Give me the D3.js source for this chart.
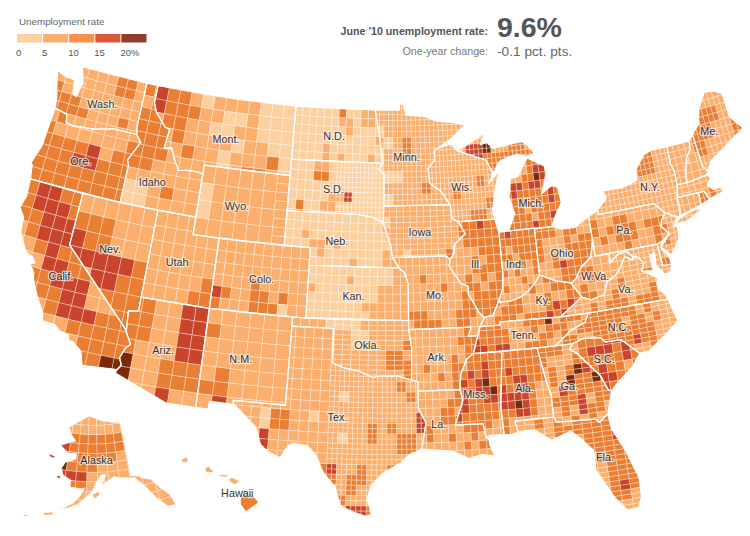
<!DOCTYPE html>
<html>
<head>
<meta charset="utf-8"/>
<title>Unemployment rate by county</title>
<script src="https://cdn.jsdelivr.net/npm/d3@7"></script>
<style>
  html, body { margin: 0; padding: 0; background: #fff; }
  svg { display: block; font-family: "Liberation Sans", Arial, sans-serif; }
  .state-label { font-size: 10.8px; fill: #333; text-anchor: middle; paint-order: stroke; stroke: #fff; stroke-opacity: .6; stroke-width: 2.5px; stroke-linejoin: round; }
</style>
</head>
<body>
<svg id="map" width="750" height="536"></svg>
<script>
// legend
var legendBreaks = [0, 5, 10, 15, 20, 25];
var legendTicks = ["0", "5", "10", "15", "20%"];
var rateBreaks = [5, 10, 15, 20];
var mapColors = ["#fdd09f", "#fcae6c", "#ea7f33", "#c9442a", "#7a2a08"];
var legendColors = ["#fdd09f", "#fcae6c", "#f8914d", "#d8583a", "#923c2a"];

// state outlines, lon/lat
var outlines = {
  WA: [[-124.7,48.38],[-123.9,48.17],[-123.1,48.15],[-122.85,47.3],[-122.55,47.25],[-122.4,47.9],[-122.3,48.05],[-122.5,48.5],[-122.75,49],[-117.03,49],[-117.04,46.42],[-116.92,45.99],[-118.98,46],[-119.3,45.93],[-120.5,45.7],[-121.2,45.65],[-122.2,45.58],[-122.75,45.65],[-122.9,46.1],[-123.4,46.2],[-123.98,46.25],[-124.05,46.7],[-124.15,47],[-124.4,47.6]],
  OR: [[-123.98,46.25],[-123.4,46.2],[-122.9,46.1],[-122.75,45.65],[-122.2,45.58],[-121.2,45.65],[-120.5,45.7],[-119.3,45.93],[-118.98,46],[-116.92,45.99],[-116.46,45.6],[-116.85,45],[-117.2,44.45],[-117.03,44.2],[-117.03,42],[-124.21,42],[-124.4,42.8],[-124.55,42.85],[-124.1,44],[-124.05,45]],
  CA: [[-124.21,42],[-120,42],[-120,39],[-114.63,35],[-114.57,34.85],[-114.15,34.27],[-114.45,34],[-114.72,33.4],[-114.5,33],[-114.72,32.72],[-117.12,32.53],[-117.25,32.85],[-117.4,33.3],[-118.1,33.72],[-118.4,33.75],[-118.5,34.03],[-119.2,34.15],[-119.6,34.42],[-120.5,34.45],[-120.65,34.9],[-121.3,35.7],[-121.9,36.6],[-122,36.95],[-122.45,37.4],[-122.1,37.5],[-122.4,37.8],[-122.5,37.8],[-123,38],[-123.75,38.95],[-123.85,39.8],[-124.35,40.3],[-124.1,41]],
  NV: [[-120,42],[-114.04,42],[-114.04,36.2],[-114.75,36.1],[-114.63,35],[-120,39]],
  ID: [[-117.03,49],[-116.05,49],[-116.05,48],[-115.7,47.45],[-114.75,46.75],[-114.35,46.65],[-114.5,45.55],[-113.9,45.65],[-113.45,44.95],[-113,44.45],[-112.3,44.55],[-111.5,44.55],[-111.05,44.48],[-111.05,42],[-117.03,42],[-117.03,44.2],[-117.2,44.45],[-116.85,45],[-116.46,45.6],[-116.92,45.99],[-117.04,46.42]],
  MT: [[-116.05,49],[-104.05,49],[-104.05,45],[-111.05,45],[-111.05,44.48],[-111.5,44.55],[-112.3,44.55],[-113,44.45],[-113.45,44.95],[-113.9,45.65],[-114.5,45.55],[-114.35,46.65],[-114.75,46.75],[-115.7,47.45],[-116.05,48]],
  WY: [[-111.05,45],[-104.05,45],[-104.05,41],[-111.05,41]],
  UT: [[-114.04,42],[-111.05,42],[-111.05,41],[-109.05,41],[-109.05,37],[-114.04,37]],
  CO: [[-109.05,41],[-102.05,41],[-102.05,37],[-109.05,37]],
  AZ: [[-114.04,37],[-109.05,37],[-109.05,31.33],[-111.07,31.33],[-114.8,32.5],[-114.72,32.72],[-114.5,33],[-114.72,33.4],[-114.45,34],[-114.15,34.27],[-114.57,34.85],[-114.63,35],[-114.75,36.1],[-114.04,36.2]],
  NM: [[-109.05,37],[-103,37],[-103.05,32],[-106.62,32],[-106.53,31.78],[-108.2,31.78],[-108.2,31.33],[-109.05,31.33]],
  ND: [[-104.05,49],[-97.23,49],[-96.85,47.6],[-96.56,45.94],[-104.05,45.94]],
  SD: [[-104.05,45.94],[-96.56,45.94],[-96.85,45.6],[-96.45,45.3],[-96.45,43.5],[-96.5,42.55],[-97.3,42.85],[-98.5,43],[-104.05,43]],
  NE: [[-104.05,43],[-98.5,43],[-97.3,42.85],[-96.5,42.55],[-96.1,41.7],[-95.9,41.2],[-95.77,40.58],[-95.31,40],[-102.05,40],[-102.05,41],[-104.05,41]],
  KS: [[-102.05,40],[-95.31,40],[-94.9,39.75],[-94.61,39.11],[-94.62,37],[-102.05,37]],
  OK: [[-103,37],[-94.62,37],[-94.62,36.5],[-94.43,35.4],[-94.48,33.64],[-95.5,33.9],[-96.6,33.85],[-97.2,33.8],[-98.1,34.13],[-99.2,34.3],[-100,34.56],[-100,36.5],[-103,36.5]],
  TX: [[-103,36.5],[-100,36.5],[-100,34.56],[-99.2,34.3],[-98.1,34.13],[-97.2,33.8],[-96.6,33.85],[-95.5,33.9],[-94.48,33.64],[-94.04,33.55],[-94.04,32],[-93.55,31.2],[-93.75,30.3],[-93.85,29.7],[-94.7,29.4],[-95.3,28.9],[-96.4,28.35],[-97.2,27.6],[-97.4,26.9],[-97.15,25.96],[-97.5,25.85],[-98.2,26.05],[-99.1,26.4],[-99.5,27.5],[-100.3,28.3],[-100.8,29.25],[-101.4,29.77],[-102.35,29.87],[-102.7,29.7],[-103.15,28.98],[-104,29.3],[-104.5,29.65],[-104.9,30.6],[-106.53,31.78],[-106.62,32],[-103.05,32]],
  MN: [[-97.23,49],[-95.15,49],[-95.15,49.38],[-94.8,49.3],[-94.6,48.7],[-93,48.6],[-92,48.3],[-90.8,48.2],[-89.6,48],[-90.8,47.3],[-92.05,46.72],[-92.3,46.65],[-92.3,46.1],[-92.85,45.6],[-92.75,44.75],[-91.9,44.3],[-91.2,43.5],[-96.45,43.5],[-96.45,45.3],[-96.85,45.6],[-96.56,45.94],[-96.85,47.6]],
  IA: [[-96.45,43.5],[-91.2,43.5],[-91.1,42.7],[-90.65,42.5],[-90.15,41.8],[-91.05,41.2],[-91.1,40.7],[-91.42,40.38],[-91.7,40.6],[-95.77,40.58],[-95.9,41.2],[-96.1,41.7],[-96.5,42.55]],
  MO: [[-95.77,40.58],[-91.7,40.6],[-91.42,40.38],[-91.5,40],[-90.7,39],[-90.15,38.8],[-90.2,38.4],[-89.5,37.3],[-89.15,37],[-89.5,36.5],[-89.7,36],[-90.37,36],[-90.15,36.5],[-94.62,36.5],[-94.62,39.11],[-94.9,39.75],[-95.31,40]],
  AR: [[-94.62,36.5],[-90.15,36.5],[-90.37,36],[-89.7,36],[-90.1,35],[-90.6,34.7],[-91.05,33.9],[-91.17,33],[-94.04,33],[-94.04,33.55],[-94.48,33.64],[-94.43,35.4]],
  LA: [[-94.04,33],[-91.17,33],[-91,32.4],[-91.6,31],[-89.75,31],[-89.6,30.2],[-89.4,30.05],[-89.4,29.8],[-89.1,29.1],[-89.9,29.25],[-90.8,29.05],[-91.8,29.5],[-92.3,29.55],[-93.85,29.7],[-93.75,30.3],[-93.55,31.2],[-94.04,32]],
  WI: [[-92.05,46.72],[-90.9,46.95],[-90.4,46.55],[-89,46.15],[-88.1,45.9],[-87.6,45.1],[-88,44.55],[-87.05,45.25],[-87.55,44.2],[-87.9,43],[-87.8,42.5],[-90.65,42.5],[-91.1,42.7],[-91.2,43.5],[-91.9,44.3],[-92.75,44.75],[-92.85,45.6],[-92.3,46.1],[-92.3,46.65]],
  IL: [[-90.65,42.5],[-87.8,42.5],[-87.55,41.75],[-87.53,39.35],[-87.65,38.5],[-88.05,37.8],[-88.5,37.1],[-89.15,37],[-89.5,37.3],[-90.2,38.4],[-90.15,38.8],[-90.7,39],[-91.5,40],[-91.42,40.38],[-91.1,40.7],[-91.05,41.2],[-90.15,41.8]],
  IN: [[-87.55,41.75],[-87.2,41.75],[-86.8,41.76],[-84.8,41.76],[-84.82,39.1],[-85.2,38.7],[-85.75,38.28],[-86.3,38],[-87.1,37.8],[-88.05,37.8],[-87.65,38.5],[-87.53,39.35]],
  OH: [[-84.8,41.7],[-83.45,41.73],[-82.7,41.5],[-81.7,41.5],[-80.52,41.98],[-80.52,40.64],[-80.85,39.7],[-81.7,39.2],[-82.2,38.6],[-82.6,38.42],[-83.7,38.65],[-84.82,39.1]],
  KY: [[-89.5,36.5],[-89.15,37],[-88.5,37.1],[-88.05,37.8],[-87.1,37.8],[-86.3,38],[-85.75,38.28],[-85.2,38.7],[-84.82,39.1],[-83.7,38.65],[-82.6,38.42],[-81.97,37.54],[-83.68,36.6],[-88.07,36.68],[-88.07,36.5]],
  TN: [[-90.1,35],[-89.7,36],[-89.5,36.5],[-88.07,36.5],[-88.07,36.68],[-83.68,36.6],[-81.68,36.59],[-82,36.1],[-83.1,35.75],[-84.32,35]],
  MS: [[-90.1,35],[-88.2,35],[-88.1,34.9],[-88.47,31.9],[-88.4,30.3],[-89.3,30.3],[-89.6,30.2],[-89.75,31],[-91.6,31],[-91,32.4],[-91.17,33],[-91.05,33.9],[-90.6,34.7]],
  AL: [[-88.2,35],[-85.6,35],[-85.18,32.87],[-85,32.3],[-85,31],[-87.6,31],[-87.45,30.35],[-88,30.25],[-88.4,30.3],[-88.47,31.9],[-88.1,34.9]],
  GA: [[-85.6,35],[-83.1,35],[-83.35,34.7],[-82.9,34.45],[-81.5,33],[-81.1,32.1],[-80.9,32.03],[-81.4,30.75],[-82.05,30.36],[-82.2,30.57],[-84.87,30.7],[-85,31],[-85,32.3],[-85.18,32.87]],
  FL: [[-87.6,31],[-85,31],[-84.87,30.7],[-82.2,30.57],[-82.05,30.36],[-81.4,30.75],[-81.3,29.9],[-80.6,28.5],[-80.05,26.9],[-80.1,25.75],[-80.4,25.2],[-81.1,25.15],[-81.75,25.95],[-82.1,26.6],[-82.7,27.7],[-82.65,28.8],[-83.4,29.6],[-84,30.1],[-85.3,29.7],[-86.4,30.4],[-87.45,30.35]],
  SC: [[-83.1,35],[-82.3,35.2],[-81.05,35.1],[-80.8,34.82],[-79.67,34.8],[-78.55,33.86],[-79.2,33.2],[-80.45,32.4],[-80.9,32.03],[-81.1,32.1],[-81.5,33],[-82.9,34.45],[-83.35,34.7]],
  NC: [[-84.32,35],[-83.1,35.75],[-82,36.1],[-81.68,36.59],[-75.87,36.55],[-75.5,35.25],[-76.5,34.65],[-77.9,33.9],[-78.55,33.86],[-79.67,34.8],[-80.8,34.82],[-81.05,35.1],[-82.3,35.2],[-83.1,35]],
  VA: [[-83.68,36.6],[-81.97,37.54],[-81.3,37.3],[-80.3,37.5],[-79.95,38.2],[-79.3,38.42],[-78.87,38.77],[-78.35,39.4],[-77.83,39.13],[-77.5,39.3],[-77.05,38.85],[-77.3,38.4],[-76.3,37.9],[-76.4,37.2],[-76,36.9],[-75.87,36.55],[-81.68,36.59]],
  WV: [[-82.6,38.42],[-82.2,38.6],[-81.7,39.2],[-80.85,39.7],[-80.52,40.64],[-80.52,39.72],[-79.48,39.72],[-79.48,39.2],[-78.8,39.6],[-78.2,39.67],[-77.75,39.32],[-77.83,39.13],[-78.35,39.4],[-78.87,38.77],[-79.3,38.42],[-79.95,38.2],[-80.3,37.5],[-81.3,37.3],[-81.97,37.54]],
  MD: [[-79.48,39.72],[-75.79,39.72],[-75.7,38.46],[-75.05,38.45],[-75.25,38.03],[-75.7,37.95],[-76.2,38.6],[-76.1,39.3],[-76.5,39.2],[-76.45,38.3],[-77.3,38.4],[-77.05,38.85],[-77.5,39.3],[-77.75,39.32],[-78.2,39.67],[-78.8,39.6],[-79.48,39.2]],
  DE: [[-75.79,39.72],[-75.45,39.8],[-75.55,39.45],[-75.1,38.8],[-75.05,38.45],[-75.7,38.46]],
  PA: [[-80.52,41.98],[-79.76,42.27],[-79.76,42],[-75.35,42],[-74.7,41.36],[-75.1,40.95],[-75.2,40.65],[-74.72,40.15],[-75.45,39.8],[-75.79,39.72],[-80.52,39.72]],
  NJ: [[-74.7,41.36],[-73.9,41],[-74.25,40.5],[-74,40.45],[-74.1,39.75],[-74.9,38.95],[-75.55,39.5],[-74.72,40.15],[-75.2,40.65],[-75.1,40.95]],
  NY: [[-79.76,42.27],[-78.9,42.85],[-79.05,43.27],[-77.5,43.25],[-76.3,43.5],[-76.2,44.1],[-75.3,44.85],[-74.7,45],[-73.35,45],[-73.4,44],[-73.25,43.6],[-73.27,42.75],[-73.5,42.05],[-73.5,41.3],[-73.65,41],[-73.9,41],[-74.7,41.36],[-75.35,42],[-79.76,42]],
  LI: [[-74,40.6],[-73.7,40.88],[-72.3,41.15],[-71.9,41.05],[-73.2,40.62]],
  VT: [[-73.35,45],[-71.5,45],[-71.6,44.5],[-72.05,44.1],[-72.45,43.1],[-72.46,42.73],[-73.27,42.75],[-73.25,43.6],[-73.4,44]],
  NH: [[-71.5,45],[-71.1,45.3],[-70.98,43.4],[-70.7,43.07],[-70.82,42.87],[-72.46,42.73],[-72.45,43.1],[-72.05,44.1],[-71.6,44.5]],
  ME: [[-71.1,45.3],[-70.4,45.8],[-70,46.7],[-69.23,47.46],[-68.3,47.35],[-67.8,47.07],[-67.8,45.7],[-67,44.85],[-68.5,44.3],[-69.3,43.95],[-70.2,43.6],[-70.7,43.07],[-70.98,43.4]],
  MA: [[-73.5,42.05],[-73.27,42.75],[-72.46,42.73],[-70.82,42.87],[-70.6,42.65],[-71,42.3],[-70.6,41.95],[-70.05,42.05],[-69.95,41.7],[-70.65,41.6],[-71.12,41.5],[-71.38,42.02],[-71.8,42.02]],
  RI: [[-71.8,42.02],[-71.38,42.02],[-71.12,41.5],[-71.85,41.32]],
  CT: [[-73.5,42.05],[-71.8,42.02],[-71.85,41.32],[-73.65,41],[-73.5,41.3]],
  MIL: [[-86.8,41.76],[-84.8,41.76],[-83.45,41.73],[-83.1,42.25],[-82.45,43],[-82.6,43.9],[-83,44.07],[-83.9,43.65],[-83.3,44.85],[-83.4,45.2],[-84.7,45.78],[-85.2,45.3],[-85.6,44.8],[-86.25,44.7],[-86.5,43.7],[-86.2,42.7]],
  MIU: [[-90.4,46.55],[-89,46.15],[-88.1,45.9],[-87.6,45.1],[-87,45.75],[-86.5,45.9],[-85.5,46.05],[-84.75,45.87],[-84.1,46],[-84.5,46.45],[-85,46.75],[-86.1,46.67],[-87.4,46.52],[-87.9,46.9],[-88.45,46.8],[-88,47.45],[-89.5,46.85]]
};

var alaskaOutlines = {
  AK: [[-141,69.65],[-145,70],[-150,70.4],[-156.5,71.3],[-161,70.3],[-166,68.9],[-164,67.6],[-162,66.8],[-168,65.6],[-164.5,64.5],[-161,64.6],[-161,63.6],[-165,62.8],[-166,61.7],[-165,60.6],[-162,59.9],[-162,58.7],[-158,58.6],[-157,58.8],[-158.5,57.3],[-160.5,56],[-163,55],[-164.9,54.6],[-162,55],[-159,55.9],[-156.5,57.2],[-154.5,58.3],[-153.5,59.5],[-151.7,60.9],[-151,61.1],[-149.8,61],[-150.5,60],[-151.9,59.3],[-149.5,59.8],[-147,60.6],[-145,60.3],[-141.5,60],[-139.7,59.7],[-137,58],[-134.5,55.5],[-132,53.5],[-129.8,53.3],[-130.3,55.2],[-132.5,57],[-134.5,58.8],[-137,59.4],[-138.5,60],[-141,60.3]],
  KOD: [[-154.5,57.6],[-152.5,58.2],[-152.2,57.6],[-153.8,56.9]],
  SLI: [[-171.7,63.7],[-169,63.4],[-170,63.1],[-171.5,63.3]],
  NUN: [[-167.2,60.2],[-166,60.4],[-165.8,59.9],[-167,59.9]],
  UN1: [[-168.8,53.5],[-166,54],[-166.2,53.5],[-168.5,53.1]],
  UN2: [[-174.3,52.4],[-173,52.4],[-173,52.1],[-174.3,52.1]]
};

var hawaiiOutlines = {
  KAU: [[-159.75,22.1],[-159.4,22.25],[-159.3,22],[-159.6,21.88]],
  OAH: [[-158.25,21.55],[-158,21.7],[-157.65,21.35],[-158.1,21.3]],
  MOL: [[-157.3,21.2],[-156.75,21.17],[-156.85,21.05],[-157.3,21.08]],
  MAU: [[-156.7,20.9],[-156.5,21.02],[-156,20.78],[-156.3,20.58],[-156.6,20.75]],
  HAW: [[-155.9,20.25],[-155.2,19.95],[-154.8,19.5],[-155.6,18.95],[-155.95,19.4]]
};

// county rate classes, floor(rate / 5), rows north to south, columns west to east
var rates = {
  WA: ["111111221","111111221","211111111","222111111","222211121","221111111"],
  OR: ["12111111","21111112","22223122","22233222","22222222","22222222"],
  CA: ["23322111111","23332111111","22333211111","12333222111","11232232111","11133222111","22223331111","22222331111","11112333222","11111122222","11111112222","11111112244"],
  NV: ["111111","222111","322111","333332","113322","113222","111122"],
  ID: ["221111","121111","222111","222111","222111","222111","221111","111111","001211","001111"],
  MT: ["322101111000","322211001000","122110011000","112111101100","111211011120","111111012210"],
  WY: ["1111111","0111111","0111111","1111111"],
  UT: ["111111","111111","111111","111111","111112","111122"],
  CO: ["1111111111","1111111111","1111111111","1111211111","3211221211","2111222011"],
  AZ: ["221133","221133","221133","211133","411222","411222","111311"],
  NM: ["111111","211111","111111","111111","121111","221111","131111"],
  ND: ["000000200110","000000110110","000000010000","000000000001","000010000000","000010100010"],
  SD: ["000110000000","000220000000","000000000000","000001130000","020011000000","020001000000"],
  NE: ["00000000000000","00000000000011","00100000000001","00011010000001","00001000000011","00000000100011"],
  KS: ["0000000000011","0000010000011","1000000001111","0000000001111","0000000111111","0000000011111"],
  OK: ["11110000111111","11111110011111","11111110111112","11111111111221","11111111111222","11111111111112"],
  TX: ["11111111111111111111","11111111111111111111","11111111111111111111","11111111111111111111","11111111111111111111","11111111111111111211","11111111111011111121","11111111111111111111","11102211011111111113","11102211111111212113","11131111111011211221","11131111111111111221","11111111111111111111","11111111123112112111","11111111122122111111","11111111111121111111","11111111111211011111","11111111111133221111"],
  MN: ["1111111111","1111111111","0111111111","1012111111","0112111111","0111111111","0001111111","0111121111","0011111111"],
  IA: ["111111111111","011111111112","111111111112","111111111111","111011111221"],
  MO: ["1111111111111","1111111111111","1111211111111","1211111211111","1111111111221","1111111111221","1122211112221","1112222112211","1111111112211"],
  AR: ["1111111122","1111111222","1111111122","1111112122","1121112233","1111212233","1111112233"],
  LA: ["1111122331","1111222211","1112212211","2112222111","2211112222","1211211212","1111112122","1111111111"],
  WI: ["111111111","111111111","111111111","111111211","111211111","111111121","111112212"],
  IL: ["1122322","1222222","1122222","1111222","1112122","1112222","1121212","1222122","1112222","1122222","1122222"],
  IN: ["2232222","2222222","2212222","2221222","2121212","2212112","2111211","1211121","1111111"],
  OH: ["22222111","22212211","21112122","21112222","21211222","11232222","11122221","11122221"],
  KY: ["11111111122211","11111112112222","22212211121122","22122211123232","11222122232322"],
  TN: ["2222111222412221","2222211121222112","3222211112212121","3323311222112222"],
  MS: ["1122222","1122322","3232322","3323422","3233342","3322332","3322222","3222221","2222211","1111111"],
  AL: ["2222222","2222221","2322222","2233222","3223211","3333211","3343211","2233211","2111111","2111111"],
  GA: ["22212111","21112211","12124322","12142241","31322222","12223122","21213221","21121212"],
  FL: ["112121222221","111122222222","111111122232","111111122222","111111112222","111111121222","111111111222","111111111232","111111111221","111111111111"],
  SC: ["12223322","12333232","22222232","22232212","22233222","22232122"],
  NC: ["1112222222212111","1112222221221211","1221122222222111","1122122222322111","1111122122112111"],
  VA: ["11111111111111","11111111111111","11111111211111","11111112111121","21112122212221"],
  WV: ["11111111","11111111","12111111","12211111","11221111","12111111","22211111"],
  MD: ["111111","111112","111211"],
  DE: ["1","1","2"],
  PA: ["1111111111","2112211111","2122221222","1212221122","1111211121"],
  NJ: ["11","21","21","11"],
  NY: ["111112211","111112211","111111111","111111111","111111111","111111111"],
  LI: ["1"],
  VT: ["11","11","11"],
  NH: ["112","112","011","111","111"],
  ME: ["11111","12211","22112","21112","11111"],
  MA: ["1111111","1111121"],
  RI: ["2"],
  CT: ["11","11"],
  MIL: ["111122111","111123311","111224321","133233222","232222232","222222232","222122222","222212232","222232222"],
  MIU: ["111111111","133411221","123222222","122222222"],
  AK: ["1111111111","1111111111","2222222111","3222222111","3222221111","4222111111","3331111111","3221111111","1111111111","1111111111","1111111111"],
  KOD: ["1"], SLI: ["3"], NUN: ["3"], UN1: ["1"], UN2: ["1"],
  KAU: ["1"], OAH: ["1"], MOL: ["1"], MAU: ["1"], HAW: ["2"]
};

var stateLabels = [
  ["Wash.",-120.3,47.25],["Ore.",-120.8,43.75],["Calif.",-120.05,37.2],["Nev.",-117,39.3],["Idaho",-114.9,43.55],
  ["Mont.",-109.6,46.65],["Wyo.",-108,42.95],["Utah",-111.9,39.3],["Colo.",-105.5,39],["Ariz.",-111.85,34.3],
  ["N.M.",-106.4,34.4],["N.D.",-100.65,47.4],["S.D.",-100.5,44.4],["Neb.",-100.05,41.45],["Kan.",-98.65,38.4],
  ["Okla.",-97.6,35.6],["Tex.",-99.5,31.5],["Minn.",-94.6,46.3],["Iowa",-93.65,42],["Mo.",-92.65,38.4],
  ["Ark.",-92.65,34.9],["La.",-92.7,31.1],["Wis.",-90.2,44.45],["Ill.",-89.45,40.05],["Ind.",-86.55,39.85],
  ["Mich.",-84.8,43.2],["Ohio",-82.95,40.15],["Ky.",-84.8,37.65],["Tenn.",-86.45,35.8],["Miss.",-90.1,32.7],
  ["Ala.",-86.75,32.8],["Ga.",-83.7,32.65],["Fla.",-82,28.35],["S.C.",-81.05,33.9],["N.C.",-79.7,35.55],
  ["Va.",-78.7,37.6],["W.Va.",-80.75,38.6],["Pa.",-78,40.85],["N.Y.",-75.4,42.95],["Me.",-69.7,45.25]
];
var alaskaLabel = ["Alaska",-153,63.7];
var hawaiiLabel = ["Hawaii",-156.15,20.1];

var colorScale = d3.scaleThreshold().domain(rateBreaks).range(mapColors);

var albers = d3.geoAlbers().rotate([96, 0]).center([0, 37.5]).parallels([29.5, 45.5]).scale(1003).translate([389.5, 312]);
var alaska = d3.geoAlbers().rotate([154, 0]).center([0, 60]).parallels([55, 65]).scale(330).translate([94, 481]);
var hawaii = d3.geoAlbers().rotate([157, 0]).center([0, 20.5]).parallels([8, 18]).scale(950).translate([224, 486]);

var svg = d3.select("#map");
var line = d3.line();
var clipCount = 0;

// mesh size in degrees, counties get bigger going west
function meshWidth(lon) { return lon > -100 ? 0.42 : lon > -105 ? 0.7 : 1.1; }
function meshHeight(lon) { return lon > -100 ? 0.36 : lon > -105 ? 0.55 : 0.9; }

function drawParts(parts, proj, fine) {
  var cells = svg.append("g");
  var borders = svg.append("g");
  Object.keys(parts).forEach(function(id) {
    var outline = parts[id];
    var rows = rates[id];
    var shape = line(outline.map(proj)) + "Z";
    var clipId = "clip" + (clipCount++);
    svg.append("clipPath").attr("id", clipId).append("path").attr("d", shape);

    var lons = d3.extent(outline, function(p) { return p[0]; });
    var lats = d3.extent(outline, function(p) { return p[1]; });
    var rowY = d3.scaleLinear().domain([0, rows.length]).range([lats[1], lats[0]]);
    var g = cells.append("g").attr("clip-path", "url(#" + clipId + ")");
    rows.forEach(function(row, i) {
      var colX = d3.scaleLinear().domain([0, row.length]).range([lons[0], lons[1]]);
      row.split("").forEach(function(c, j) {
        var midLon = colX(j + 0.5);
        var nx = fine ? Math.max(1, Math.round((colX(j + 1) - colX(j)) / meshWidth(midLon))) : 1;
        var ny = fine ? Math.max(1, Math.round((rowY(i) - rowY(i + 1)) / meshHeight(midLon))) : 1;
        for (var a = 0; a < nx; a++) {
          for (var b = 0; b < ny; b++) {
            var x0 = colX(j + a / nx), x1 = colX(j + (a + 1) / nx);
            var y0 = rowY(i + b / ny), y1 = rowY(i + (b + 1) / ny);
            g.append("path")
              .attr("d", line([[x0, y0], [x1, y0], [x1, y1], [x0, y1]].map(proj)) + "Z")
              .attr("fill", colorScale(+c * 5))
              .attr("stroke", "#fff")
              .attr("stroke-opacity", 0.6)
              .attr("stroke-width", 0.55);
          }
        }
      });
    });
    borders.append("path")
      .attr("d", shape)
      .attr("fill", "none")
      .attr("stroke", "#fff")
      .attr("stroke-width", fine ? 1.2 : 0.5)
      .attr("stroke-linejoin", "round");
  });
}

drawParts(outlines, albers, true);
drawParts(alaskaOutlines, alaska, false);
drawParts(hawaiiOutlines, hawaii, false);

function addLabel(d, proj) {
  var p = proj([d[1], d[2]]);
  svg.append("text").attr("class", "state-label").attr("x", p[0]).attr("y", p[1] + 4).text(d[0]);
}
stateLabels.forEach(function(d) { addLabel(d, albers); });
addLabel(alaskaLabel, alaska);
addLabel(hawaiiLabel, hawaii);

// legend
var legendX = d3.scaleLinear().domain([0, 25]).range([17, 147.5]);
svg.append("text").attr("x", 19).attr("y", 25).attr("font-size", 9.8).attr("fill", "#666").text("Unemployment rate");
svg.selectAll(".swatch")
  .data(legendColors)
  .enter()
  .append("rect")
  .attr("class", "swatch")
  .attr("x", function(d, i) { return legendX(legendBreaks[i]); })
  .attr("width", function(d, i) { return legendX(legendBreaks[i + 1]) - legendX(legendBreaks[i]) - 1; })
  .attr("y", 34)
  .attr("height", 8.5)
  .attr("fill", function(d) { return d; });
svg.selectAll(".tick")
  .data(legendTicks)
  .enter()
  .append("text")
  .attr("class", "tick")
  .attr("x", function(d, i) { return legendX(legendBreaks[i]) - 1; })
  .attr("y", 56)
  .attr("font-size", 9.5)
  .attr("fill", "#555")
  .text(function(d) { return d; });

// headline numbers
svg.append("text").attr("x", 488).attr("y", 35).attr("text-anchor", "end").attr("font-size", 10.7).attr("font-weight", "bold").attr("fill", "#555").text("June '10 unemployment rate:");
svg.append("text").attr("x", 488).attr("y", 55).attr("text-anchor", "end").attr("font-size", 10.7).attr("fill", "#777").text("One-year change:");
svg.append("text").attr("x", 497).attr("y", 37).attr("font-size", 28.5).attr("font-weight", "bold").attr("fill", "#555").text("9.6%");
svg.append("text").attr("x", 497).attr("y", 56).attr("font-size", 13.7).attr("fill", "#666").text("-0.1 pct. pts.");
</script>
</body>
</html>
